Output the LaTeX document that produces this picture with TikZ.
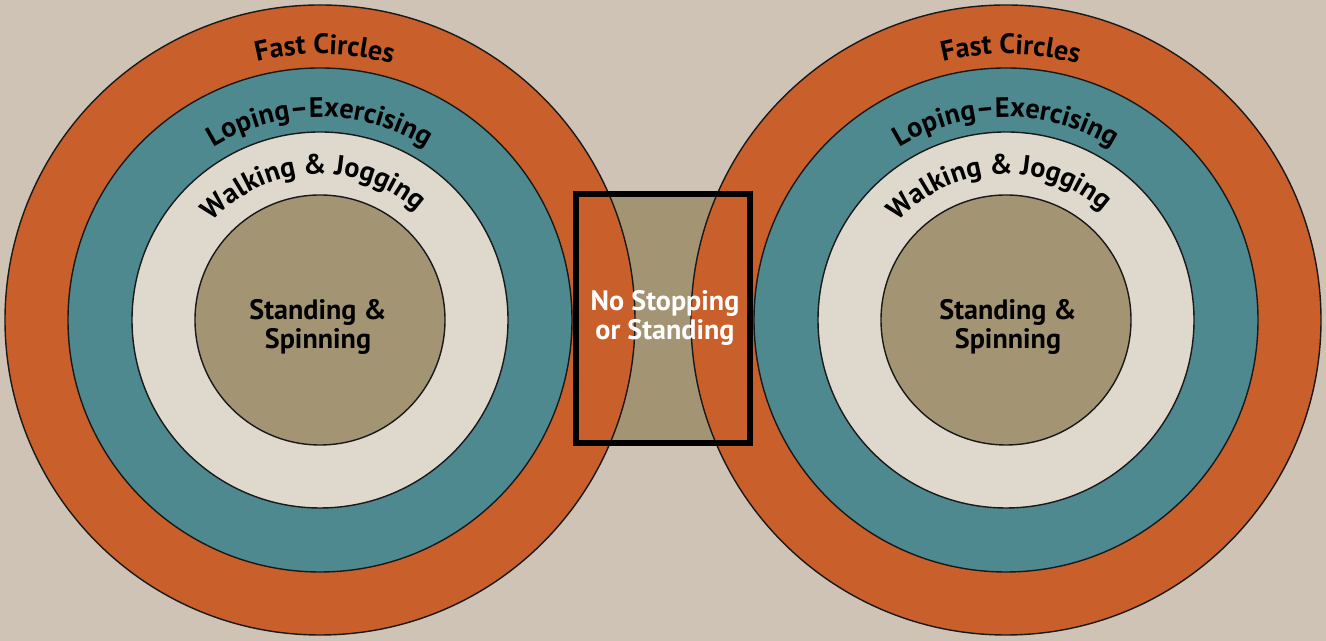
\documentclass[tikz,border=0pt]{standalone}
\usepackage{fontspec}
\setmainfont{PT Sans}
\usetikzlibrary{decorations.text}
\definecolor{bg}{HTML}{CFC3B6}
\definecolor{fast}{HTML}{C9602C}
\definecolor{lope}{HTML}{4E8990}
\definecolor{walk}{HTML}{DFD9CD}
\definecolor{stand}{HTML}{A39474}
\newcommand{\ringfont}{\bfseries\fontsize{16}{17}\selectfont}
% concentric rings of one arena, #1 = x of its centre
\newcommand{\rings}[1]{
\path[ring, fill=fast] (#1,321) circle (315);
\path[ring, fill=lope] (#1,321) circle (252);
\path[ring, fill=walk] (#1,321) circle (188);
\path[ring, fill=stand] (#1,321) circle (125);
}
% text bent over the top of a ring
% #1 = x of centre, #2 = radius, #3 = angle of its middle, #4 = text
\newcommand{\arclabel}[4]{
\path[decorate, decoration={text along path, text align=center, text={|\ringfont|#4}}]
  (#1,321) ++(#3+80:#2) arc[start angle=#3+80, end angle=#3-80, radius=#2];
}

\begin{document}
\begin{tikzpicture}[x=0.02cm, y=0.02cm,
  ring/.style={draw=black!90, line width=0.8pt},
  centrelabel/.style={font=\ringfont, align=center, text=black},
  gaplabel/.style={font=\ringfont, align=center, text=white}]
\fill[bg] (0,0) rectangle (1326,641);
\fill[stand] (576,447) rectangle (750,198);
\rings{320}
\rings{1006}
\draw[line width=3.4pt] (576,447) rectangle (750,198);

\arclabel{320}{266}{89}{Fast Circles}
\arclabel{320}{203}{90}{Loping{–}Exercising}
\arclabel{320}{146}{93}{Walking {\&} Jogging}
\arclabel{1006}{266}{89}{Fast Circles}
\arclabel{1006}{203}{90}{Loping{–}Exercising}
\arclabel{1006}{146}{93}{Walking {\&} Jogging}

\node[centrelabel] (lstand) at (318,314) {Standing \&\\Spinning};
\node[centrelabel] (rstand) at (1008,314) {Standing \&\\Spinning};
\node[gaplabel] (gap) at (665,323) {No Stopping\\or Standing};
\end{tikzpicture}
\end{document}
